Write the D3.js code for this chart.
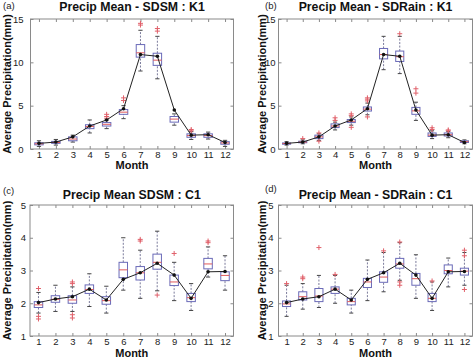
<!DOCTYPE html>
<html><head><meta charset="utf-8">
<script src="https://cdn.jsdelivr.net/npm/d3@7"></script>
<style>
body{margin:0;background:#fff;}
svg{display:block;font-family:"Liberation Sans",Arial,sans-serif;}
</style></head>
<body><svg id="c" width="474" height="358"></svg>
<script>
const months = [1,2,3,4,5,6,7,8,9,10,11,12];
const ticksK1 = [0,5,10,15];
const ticksC1 = [1,2,3,4,5];
const titles = ["Precip Mean - SDSM : K1","Precip Mean - SDRain : K1","Precip Mean SDSM : C1","Precip Mean - SDRain : C1"];
const tags = ["(a)","(b)","(c)","(d)"];

// observed means (line)
const obsK1 = [0.65,0.8,1.4,2.65,3.35,4.65,10.9,10.7,4.5,1.6,1.65,0.75];
const obsC1 = [2.02,2.13,2.2,2.43,2.1,2.73,2.93,3.22,2.86,2.15,2.96,2.97];

// box stats per month: [lower whisker, q1, median, q3, upper whisker]
const sdsmK1 = [[0.3,0.48,0.6,0.72,0.95],[0.45,0.65,0.75,0.88,1.1],[0.8,0.95,1.15,1.4,1.6],[1.85,2.35,2.6,2.8,3.35],[2.35,2.65,2.85,3.05,3.35],[3.5,4.0,4.25,4.55,5.0],[9.0,10.6,11.1,12.05,13.7],[8.1,9.65,10.25,11.05,13.0],[2.75,3.1,3.45,3.75,4.05],[1.1,1.35,1.55,1.75,2.0],[1.15,1.35,1.55,1.75,1.95],[0.3,0.55,0.7,0.85,1.0]];
const sdsmK1Out = [[],[],[],[],[3.55,3.75,4.0],[5.6,5.9],[14.3,14.5],[13.6,13.9],[],[2.1,2.25],[],[]];
const sdrainK1 = [[0.45,0.55,0.63,0.7,0.85],[0.6,0.72,0.8,0.9,1.05],[1.0,1.2,1.4,1.6,1.75],[2.2,2.47,2.65,2.9,3.1],[2.75,3.05,3.2,3.4,3.7],[3.95,4.38,4.6,4.85,5.3],[9.15,10.4,10.9,11.6,13.0],[8.7,10.1,10.65,11.3,13.0],[3.3,4.0,4.4,4.8,5.4],[1.2,1.45,1.6,1.85,2.1],[1.3,1.5,1.65,1.85,2.0],[0.6,0.75,0.85,0.95,1.05]];
const sdrainK1Out = [[],[1.2],[0.9,1.85],[3.3,3.6],[2.5,3.85,4.05],[3.7,5.55,5.75,5.9],[],[13.3],[6.45,6.95],[2.25,2.45],[2.1,2.2],[]];
const sdsmC1 = [[1.7,1.87,1.95,2.05,2.33],[1.75,2.03,2.12,2.23,2.55],[1.75,2.0,2.1,2.23,2.5],[1.9,2.3,2.42,2.56,2.9],[1.7,1.97,2.08,2.2,2.52],[2.4,2.78,3.02,3.25,4.0],[2.15,2.71,2.93,3.12,3.62],[2.38,3.04,3.25,3.5,4.2],[2.08,2.54,2.65,2.86,3.25],[1.78,2.05,2.17,2.3,2.6],[2.8,3.05,3.2,3.37,3.72],[2.4,2.69,2.85,2.96,3.45]];
const sdsmC1Out = [[2.45,1.6,1.52],[],[2.6,2.65,1.65,1.55],[],[],[],[3.9,3.95],[2.25],[3.52],[],[3.85,3.9],[]];
const sdrainC1 = [[1.6,1.9,1.98,2.07,2.55],[1.82,2.1,2.2,2.35,2.6],[1.87,2.05,2.22,2.45,2.85],[2.0,2.3,2.43,2.5,2.85],[1.7,1.95,2.05,2.15,2.4],[2.08,2.48,2.65,2.76,3.32],[2.35,2.64,2.8,2.96,3.55],[2.7,3.07,3.2,3.37,3.85],[2.15,2.55,2.75,2.91,3.48],[1.78,2.05,2.15,2.3,2.65],[2.5,2.9,3.0,3.17,3.38],[2.55,2.86,2.98,3.07,3.55]];
const sdrainC1Out = [[2.6],[2.75,2.8],[3.7],[2.88],[],[],[3.6],[3.87,2.55,2.65],[],[2.68],[],[3.62,3.45,2.42]];

const panels = [
  {box:sdsmK1,out:sdsmK1Out,obs:obsK1,ticks:ticksK1,dom:[0,15],x0:30.5,x1:233.5,y0:19,y1:149,ylx:10.5,pad:7,title:titles[0],tag:tags[0],tagX:3,tagY:9,titleY:11,monthY:169},
  {box:sdrainK1,out:sdrainK1Out,obs:obsK1,ticks:ticksK1,dom:[0,15],x0:278.5,x1:472.5,y0:19,y1:149,ylx:266,pad:3,title:titles[1],tag:tags[1],tagX:265,tagY:9,titleY:11,monthY:169},
  {box:sdsmC1,out:sdsmC1Out,obs:obsC1,ticks:ticksC1,dom:[1,5],x0:30,x1:233.5,y0:205,y1:336,ylx:10.5,pad:4,title:titles[2],tag:tags[2],tagX:3,tagY:194,titleY:199,monthY:357},
  {box:sdrainC1,out:sdrainC1Out,obs:obsC1,ticks:ticksC1,dom:[1,5],x0:278.5,x1:472.5,y0:205,y1:336,ylx:266,pad:5,title:titles[3],tag:tags[3],tagX:265,tagY:192,titleY:199,monthY:357}
];

const svg = d3.select("#c");
const frameCol = "#8a8a8a";

panels.forEach(p => {
  const x = d3.scaleLinear().domain([0.5,12.5]).range([p.x0,p.x1]);
  const y = d3.scaleLinear().domain(p.dom).range([p.y1,p.y0]);
  const bw = (x(2)-x(1))*0.5;
  const g = svg.append("g");

  // frame
  g.append("rect").attr("x",p.x0).attr("y",p.y0).attr("width",p.x1-p.x0).attr("height",p.y1-p.y0)
    .attr("fill","#fff").attr("stroke",frameCol).attr("stroke-width",1);

  // axes
  const styleAxis = sel => {
    sel.select(".domain").remove();
    sel.selectAll(".tick line").attr("stroke",frameCol);
    sel.selectAll(".tick text").attr("fill","#222").style("font-size","9.5px").style("font-family","Liberation Sans, Arial, sans-serif");
  };
  g.append("g").attr("transform",`translate(${p.x0},0)`)
    .call(d3.axisLeft(y).tickValues(p.ticks).tickSize(-3).tickPadding(p.pad).tickFormat(d3.format("d"))).call(styleAxis);
  g.append("g").attr("transform",`translate(${p.x1},0)`)
    .call(d3.axisRight(y).tickValues(p.ticks).tickSize(-3).tickFormat("")).call(styleAxis);
  g.append("g").attr("transform",`translate(0,${p.y1})`)
    .call(d3.axisBottom(x).tickValues(months).tickSize(-3).tickPadding(2.5).tickFormat(d3.format("d"))).call(styleAxis);
  g.append("g").attr("transform",`translate(0,${p.y0})`)
    .call(d3.axisTop(x).tickValues(months).tickSize(-3).tickFormat("")).call(styleAxis);

  // boxplots
  const bx = g.selectAll("g.bx").data(p.box).enter().append("g");
  bx.append("line").attr("x1",(d,i)=>x(months[i])).attr("x2",(d,i)=>x(months[i]))
    .attr("y1",d=>y(d[0])).attr("y2",d=>y(d[1])).attr("stroke","#7a7a9a").attr("stroke-dasharray","2,1.5").attr("stroke-width",1);
  bx.append("line").attr("x1",(d,i)=>x(months[i])).attr("x2",(d,i)=>x(months[i]))
    .attr("y1",d=>y(d[3])).attr("y2",d=>y(d[4])).attr("stroke","#7a7a9a").attr("stroke-dasharray","2,1.5").attr("stroke-width",1);
  [0,4].forEach(k=>{
    bx.append("line").attr("x1",(d,i)=>x(months[i])-bw/4).attr("x2",(d,i)=>x(months[i])+bw/4)
      .attr("y1",d=>y(d[k])).attr("y2",d=>y(d[k])).attr("stroke","#444").attr("stroke-width",1);
  });
  bx.append("rect").attr("x",(d,i)=>x(months[i])-bw/2).attr("width",bw)
    .attr("y",d=>y(d[3])).attr("height",d=>y(d[1])-y(d[3]))
    .attr("fill","none").attr("stroke","#6a6ab8").attr("stroke-width",1);
  bx.append("line").attr("x1",(d,i)=>x(months[i])-bw/2).attr("x2",(d,i)=>x(months[i])+bw/2)
    .attr("y1",d=>y(d[2])).attr("y2",d=>y(d[2])).attr("stroke","#e05a5a").attr("stroke-width",1);

  // outliers
  p.out.forEach((arr,i)=>{
    arr.forEach(v=>{
      const cx = x(months[i]), cy = y(v);
      g.append("path").attr("d",`M${cx-2.5},${cy}H${cx+2.5}M${cx},${cy-2.5}V${cy+2.5}`)
        .attr("stroke","#e0606a").attr("stroke-width",1).attr("fill","none");
    });
  });

  // observed line
  const line = d3.line().x((d,i)=>x(months[i])).y(d=>y(d));
  g.append("path").datum(p.obs).attr("d",line).attr("fill","none").attr("stroke","#222").attr("stroke-width",1);
  g.selectAll("circle.o").data(p.obs).enter().append("circle")
    .attr("cx",(d,i)=>x(months[i])).attr("cy",d=>y(d)).attr("r",1.8).attr("fill","#111");

  // texts
  const cx = (p.x0+p.x1)/2;
  g.append("text").attr("x",cx).attr("y",p.titleY).attr("text-anchor","middle")
    .style("font-size","12.3px").style("font-weight","bold").attr("fill","#111").text(p.title);
  g.append("text").attr("x",p.tagX).attr("y",p.tagY).style("font-size","9.5px").attr("fill","#222").text(p.tag);
  g.append("text").attr("x",cx).attr("y",p.monthY).attr("text-anchor","middle")
    .style("font-size","11px").style("font-weight","bold").attr("fill","#111").text("Month");
  g.append("text").attr("transform",`translate(${p.ylx},${(p.y0+p.y1)/2}) rotate(-90)`).attr("text-anchor","middle")
    .style("font-size","11px").style("font-weight","bold").attr("fill","#111").text("Average Precipitation(mm)");
});
</script></body></html>
